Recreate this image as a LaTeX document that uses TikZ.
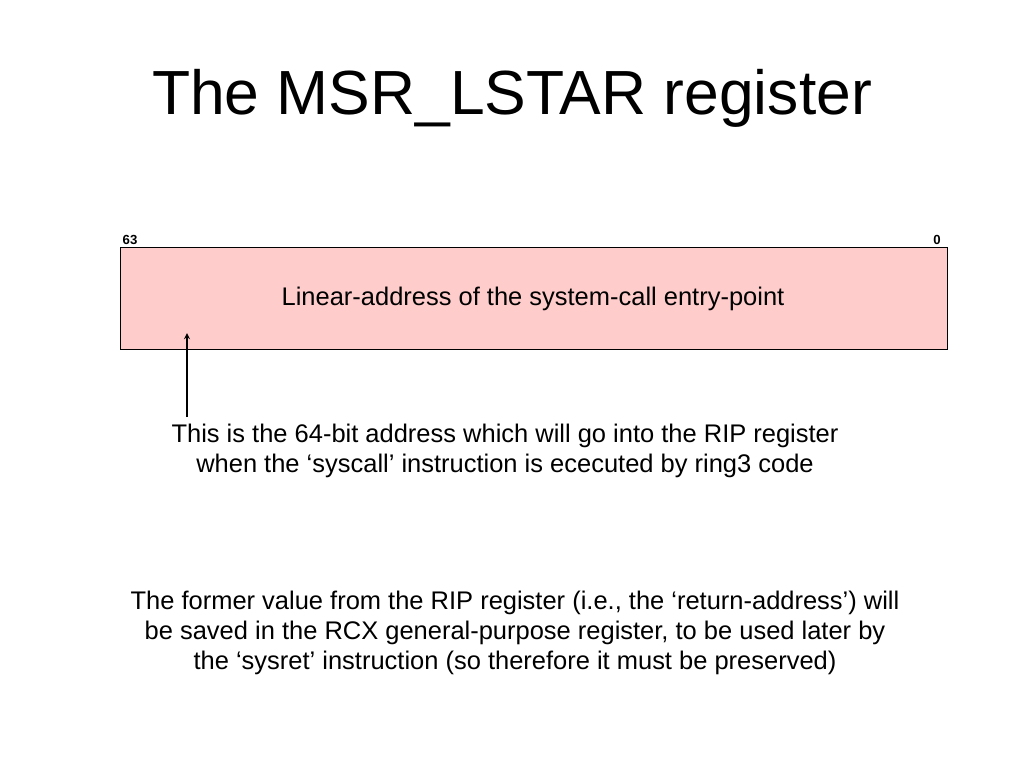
\documentclass[tikz,border=0pt]{standalone}
\usepackage{fontspec}
\setmainfont{Liberation Sans}
\definecolor{regpink}{RGB}{255,204,204}
\begin{document}
\begin{tikzpicture}[x=0.02cm,y=-0.02cm,
    note/.style={align=center,font=\fontsize{14.5}{17}\selectfont},
    bitno/.style={font=\fontsize{7.5}{9}\selectfont\bfseries}]
            \useasboundingbox (0,0) rectangle (1024,768);
            % Title
            \node (title) at (512,98) {\fontsize{35.5}{42}\selectfont The MSR\_LSTAR register};

            % Register
            \draw[fill=regpink,line width=0.5pt] (120,247) rectangle (947,349);
            \node[bitno] (hi) at (130,240) {63};
            \node[bitno] (lo) at (937,240) {0};
            \node[note] (field) at (533,299) {Linear-address of the system-call entry-point};

            % Arrow
            \coordinate (tail) at (187,417);
            \coordinate (tip) at (187,333);
            \draw[->,>=stealth,line width=0.6pt] (tail) -- (tip);

            % Notes
            \node[note] (rip) at (505,451) {This is the 64-bit address which will go into the RIP register\\when the ‘syscall’ instruction is ececuted by ring3 code};
            \node[note] (rcx) at (515,633) {The former value from the RIP register (i.e., the ‘return-address’) will\\be saved in the RCX general-purpose register, to be used later by\\the ‘sysret’ instruction (so therefore it must be preserved)};
\end{tikzpicture}
\end{document}
